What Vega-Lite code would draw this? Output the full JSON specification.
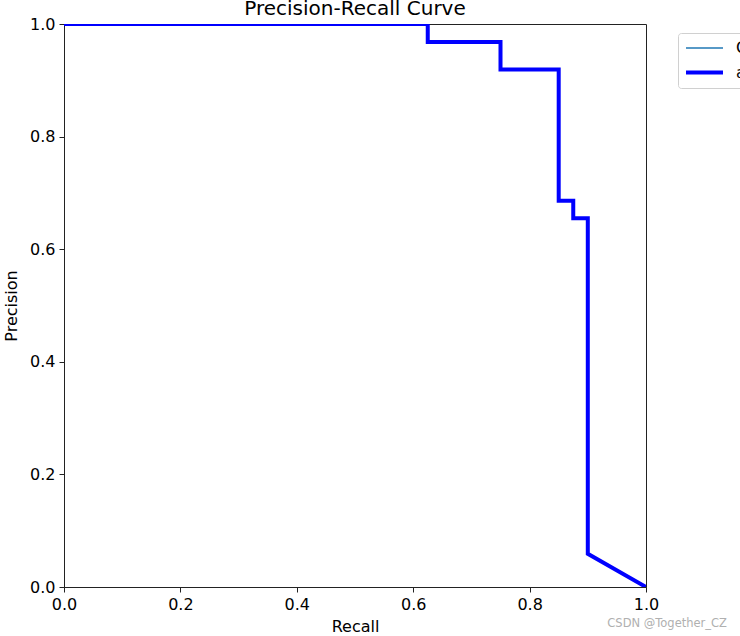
{
  "$schema": "https://vega.github.io/schema/vega-lite/v6.json",
  "width": 582,
  "height": 563,
  "autosize": {"type": "none"},
  "padding": {"left": 64, "top": 24, "right": 94, "bottom": 49},
  "background": "white",
  "config": {
    "font": "DejaVu Sans",
    "view": {"stroke": "#222222", "strokeWidth": 1},
    "axis": {
      "domainColor": "#222222",
      "tickColor": "#222222",
      "tickSize": 5,
      "labelPadding": 4,
      "labelFontSize": 16,
      "labelColor": "black",
      "labelFlush": false,
      "labelOverlap": false,
      "titleFontSize": 16,
      "titleFontWeight": "normal",
      "titleColor": "black",
      "grid": false
    }
  },
  "title": {"text": "Precision-Recall Curve", "fontSize": 20, "fontWeight": "normal", "color": "black", "offset": -3},
  "datasets": {
    "curve": [
      {"series": "C", "order": 0, "recall": 0.0, "precision": 1.0},
      {"series": "C", "order": 1, "recall": 0.625, "precision": 1.0},
      {"series": "C", "order": 2, "recall": 0.625, "precision": 0.968},
      {"series": "C", "order": 3, "recall": 0.75, "precision": 0.968},
      {"series": "C", "order": 4, "recall": 0.75, "precision": 0.919},
      {"series": "C", "order": 5, "recall": 0.85, "precision": 0.919},
      {"series": "C", "order": 6, "recall": 0.85, "precision": 0.686},
      {"series": "C", "order": 7, "recall": 0.875, "precision": 0.686},
      {"series": "C", "order": 8, "recall": 0.875, "precision": 0.655},
      {"series": "C", "order": 9, "recall": 0.9, "precision": 0.655},
      {"series": "C", "order": 10, "recall": 0.9, "precision": 0.059},
      {"series": "C", "order": 11, "recall": 1.0, "precision": 0.0},
      {"series": "all classes", "order": 0, "recall": 0.0, "precision": 1.0},
      {"series": "all classes", "order": 1, "recall": 0.625, "precision": 1.0},
      {"series": "all classes", "order": 2, "recall": 0.625, "precision": 0.968},
      {"series": "all classes", "order": 3, "recall": 0.75, "precision": 0.968},
      {"series": "all classes", "order": 4, "recall": 0.75, "precision": 0.919},
      {"series": "all classes", "order": 5, "recall": 0.85, "precision": 0.919},
      {"series": "all classes", "order": 6, "recall": 0.85, "precision": 0.686},
      {"series": "all classes", "order": 7, "recall": 0.875, "precision": 0.686},
      {"series": "all classes", "order": 8, "recall": 0.875, "precision": 0.655},
      {"series": "all classes", "order": 9, "recall": 0.9, "precision": 0.655},
      {"series": "all classes", "order": 10, "recall": 0.9, "precision": 0.059},
      {"series": "all classes", "order": 11, "recall": 1.0, "precision": 0.0}
    ],
    "mark": [{"label": "CSDN @Together_CZ", "x": 1.0, "y": 0.0}]
  },
  "layer": [
    {
      "data": {"name": "curve"},
      "transform": [{"filter": "datum.series === 'C'"}],
      "mark": {"type": "line", "clip": true},
      "encoding": {
        "x": {"field": "recall", "type": "quantitative", "scale": {"domain": [0, 1], "nice": false}, "axis": {"title": "Recall", "values": [0, 0.2, 0.4, 0.6, 0.8, 1.0], "format": ".1f", "titlePadding": 6}},
        "y": {"field": "precision", "type": "quantitative", "scale": {"domain": [0, 1], "nice": false}, "axis": {"title": "Precision", "values": [0, 0.2, 0.4, 0.6, 0.8, 1.0], "format": ".1f", "titlePadding": 10}},
        "order": {"field": "order"},
        "color": {"field": "series", "type": "nominal", "scale": {"domain": ["C", "all classes"], "range": ["#1f77b4", "#0000ff"]}, "legend": {"title": null, "orient": "none", "legendX": 614, "legendY": 9, "symbolType": "M-3,0L3,0", "symbolSize": 152, "symbolOffset": 11, "labelFontSize": 16, "labelColor": "black", "labelOffset": 23, "padding": 7, "rowPadding": 8, "strokeColor": "#d0d0d0", "fillColor": "white", "cornerRadius": 3, "labelLimit": 300}},
        "strokeWidth": {"field": "series", "type": "nominal", "scale": {"domain": ["C", "all classes"], "range": [1.4, 4]}, "legend": {"title": null, "orient": "none", "legendX": 614, "legendY": 9, "symbolType": "M-3,0L3,0", "symbolSize": 152, "symbolOffset": 11, "labelFontSize": 16, "labelColor": "black", "labelOffset": 23, "padding": 7, "rowPadding": 8, "strokeColor": "#d0d0d0", "fillColor": "white", "cornerRadius": 3, "labelLimit": 300}}
      }
    },
    {
      "data": {"name": "curve"},
      "transform": [{"filter": "datum.series === 'all classes'"}],
      "mark": {"type": "line", "clip": true},
      "encoding": {
        "x": {"field": "recall", "type": "quantitative"},
        "y": {"field": "precision", "type": "quantitative"},
        "order": {"field": "order"},
        "color": {"field": "series", "type": "nominal"},
        "strokeWidth": {"field": "series", "type": "nominal"}
      }
    },
    {
      "data": {"name": "mark"},
      "mark": {"type": "text", "align": "right", "baseline": "alphabetic", "dx": 81, "dy": 40, "fontSize": 11.5, "color": "#b0b0b0", "font": "DejaVu Sans"},
      "encoding": {
        "x": {"field": "x", "type": "quantitative"},
        "y": {"field": "y", "type": "quantitative"},
        "text": {"field": "label"}
      }
    }
  ]
}
